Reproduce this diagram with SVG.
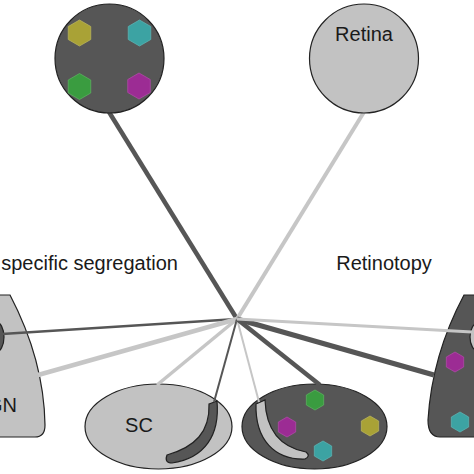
<svg xmlns="http://www.w3.org/2000/svg" width="474" height="474" viewBox="0 0 474 474">
<style>
.lbl{font-family:"Liberation Sans",Arial,sans-serif;font-size:20px;fill:#1a1a1a}
.dk{fill:#565656;stroke:#222;stroke-width:1.2}
.lt{fill:#c2c2c2;stroke:#222;stroke-width:1.2}
.cd{stroke:#565656;fill:none;stroke-linecap:butt}
.cl{stroke:#c6c6c6;fill:none;stroke-linecap:butt}
.y{fill:#a9a236;stroke:#b8b35a;stroke-width:0.8}
.t{fill:#3ca3a3;stroke:#5ab3b3;stroke-width:0.8}
.g{fill:#3a9c40;stroke:#5aae5e;stroke-width:0.8}
.m{fill:#9c2c94;stroke:#ae4aa6;stroke-width:0.8}
</style>
<defs>
<path id="hexL" d="M0,-13 L11.26,-6.5 L11.26,6.5 L0,13 L-11.26,6.5 L-11.26,-6.5 Z"/>
<path id="hexS" d="M0,-10 L8.66,-5 L8.66,5 L0,10 L-8.66,5 L-8.66,-5 Z"/>
</defs>
<rect width="474" height="474" fill="#ffffff"/>

<g id="lgn-left">
<path class="lt" d="M -2 295 L 10 295 Q 44 360 45 425 Q 45 437 35 437 L -2 437 Z"/>
<ellipse class="dk" cx="-4" cy="337" rx="8" ry="15"/>
<text class="lbl" x="17" y="412" text-anchor="end">GN</text>
</g>

<g id="lgn-right">
<path class="dk" d="M 476 295 L 464 295 Q 432 355 428 420 Q 428 437 440 437 L 476 437 Z"/>
<ellipse class="lt" cx="478" cy="337" rx="8" ry="14"/>
<use href="#hexS" class="m" x="455" y="362"/>
<use href="#hexS" class="t" x="460" y="422"/>
</g>

<g id="sc-left">
<ellipse class="lt" cx="158.5" cy="426.5" rx="73.5" ry="42.5"/>
<path class="dk" d="M 209 404 L 217 401 C 220 435 205 458 172 463 Q 164 463 167 455 C 195 447 210 432 209 404 Z"/>
<text class="lbl" x="139" y="432" text-anchor="middle">SC</text>
</g>

<g id="sc-right">
<ellipse class="dk" cx="314.5" cy="426.5" rx="72.5" ry="42.5"/>
<path class="lt" d="M 256 404 L 265 400 C 266 430 280 447 306 452 Q 311 456 305 459 C 275 460 255 440 256 404 Z"/>
<use href="#hexS" class="g" x="315" y="400"/>
<use href="#hexS" class="m" x="287" y="427"/>
<use href="#hexS" class="y" x="370" y="426"/>
<use href="#hexS" class="t" x="323" y="451"/>
</g>

<g id="connectors">
<line class="cd" x1="109" y1="112" x2="237" y2="319" stroke-width="4.5"/>
<line class="cl" x1="364" y1="112" x2="237" y2="319" stroke-width="4"/>
<line class="cd" x1="237" y1="319" x2="2" y2="334" stroke-width="2.5"/>
<line class="cl" x1="237" y1="319" x2="38" y2="375" stroke-width="4.5"/>
<line class="cl" x1="237" y1="319" x2="157" y2="385" stroke-width="3.5"/>
<line class="cd" x1="237" y1="319" x2="214" y2="402" stroke-width="2"/>
<line class="cl" x1="237" y1="319" x2="259" y2="402" stroke-width="2"/>
<line class="cd" x1="237" y1="319" x2="320" y2="385" stroke-width="4.5"/>
<line class="cd" x1="237" y1="319" x2="434" y2="375" stroke-width="5"/>
<line class="cl" x1="237" y1="319" x2="472" y2="332" stroke-width="3"/>
</g>

<g id="node-mixed">
<circle class="dk" cx="109.5" cy="58.5" r="54.5"/>
<use href="#hexL" class="y" x="79.5" y="33"/>
<use href="#hexL" class="t" x="139.5" y="33"/>
<use href="#hexL" class="g" x="79.5" y="86.5"/>
<use href="#hexL" class="m" x="139" y="86"/>
</g>

<g id="node-retina">
<circle class="lt" cx="364" cy="58.5" r="54.5"/>
<text class="lbl" x="364" y="41" text-anchor="middle">Retina</text>
</g>

<g id="labels">
<text class="lbl" x="178" y="270" text-anchor="end">specific segregation</text>
<text class="lbl" x="384" y="270" text-anchor="middle">Retinotopy</text>
</g>
</svg>
